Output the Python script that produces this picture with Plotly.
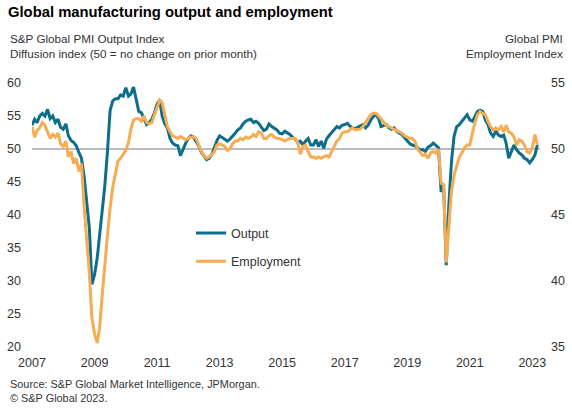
import pandas as pd
import plotly.graph_objects as go

# monthly readings, Jan 2007 .. Mar 2023
start_month = "2007-01-01"

# S&P Global PMI output index (left axis)
output = [
    53.6, 54.5, 54.0, 55.0, 55.4, 55.0, 56.0, 54.6, 55.0, 54.0, 54.5, 53.3,  # 2007
    53.0, 53.8, 52.0, 51.3, 51.0, 50.5, 49.5, 48.6, 45.8, 42.0, 38.0, 29.5,  # 2008
    31.0, 33.5, 37.0, 40.5, 44.5, 49.7, 55.8, 57.3, 57.6, 57.6, 58.2, 58.0,  # 2009
    59.3, 58.0, 58.3, 59.4, 57.8, 55.7, 55.5, 54.5, 53.7, 54.0, 54.5, 55.5,  # 2010
    56.8, 57.4, 55.0, 53.8, 53.2, 51.6, 50.9, 50.6, 50.5, 49.0, 50.0, 50.9,  # 2011
    51.6, 52.0, 51.8, 51.2, 50.5, 49.5, 49.0, 48.4, 48.6, 49.2, 50.2, 51.3,  # 2012
    52.0, 51.7, 51.4, 51.2, 51.5, 51.9, 52.4, 52.9, 53.2, 53.8, 54.2, 54.4,  # 2013
    54.5, 54.0, 54.2, 53.9, 53.4, 52.8, 53.0, 53.8, 53.4, 53.1, 52.9, 52.4,  # 2014
    52.3, 52.7, 52.5, 52.2, 51.8, 51.5, 51.0, 51.2, 50.6, 51.2, 51.6, 50.6,  # 2015
    50.6, 51.4, 50.4, 51.2, 50.1, 51.5, 52.0, 52.5, 53.0, 53.4, 53.2, 53.6,  # 2016
    53.7, 53.9, 53.5, 53.2, 53.1, 53.3, 53.4, 53.7, 53.2, 53.6, 54.4, 54.9,  # 2017
    55.2, 54.6, 53.4, 53.5, 53.7, 53.2, 53.0, 53.2, 52.7, 52.4, 52.2, 51.7,  # 2018
    51.3, 50.8, 50.6, 50.5, 50.2, 49.8, 49.9, 49.6, 50.3, 50.5, 50.9, 50.6,  # 2019
    50.2, 43.5, 44.6, 32.4, 41.5, 48.1, 51.9, 53.4, 53.7, 54.2, 54.7, 55.2,  # 2020
    54.4, 54.2, 54.9, 55.7, 55.9, 55.7, 54.4, 53.7, 52.4, 51.9, 52.7, 52.1,  # 2021
    51.9, 52.1, 50.9, 48.6, 49.6, 50.6, 49.9, 49.4, 49.1, 48.6, 48.4, 47.9,  # 2022
    48.4, 49.1, 50.6,                                                        # 2023
]

# Global PMI employment index (right axis)
employment = [
    51.7, 50.9, 51.4, 51.6, 52.0, 51.8, 51.3, 50.8, 51.1, 50.9, 51.2, 50.4,  # 2007
    50.2, 50.6, 49.4, 49.8, 48.9, 49.3, 48.3, 48.9, 45.6, 43.2, 40.6, 37.2,  # 2008
    36.0, 35.3, 36.5, 39.0, 41.4, 43.5, 45.5, 47.1, 48.1, 49.1, 49.3, 49.6,  # 2009
    49.9, 50.5, 51.5, 52.2, 52.3, 52.3, 52.1, 52.5, 52.0, 51.9, 52.0, 52.6,  # 2010
    53.2, 53.7, 53.5, 52.6, 51.7, 51.3, 51.0, 50.9, 50.8, 50.95, 50.8, 50.7,  # 2011
    50.8, 50.9, 50.9, 50.8, 50.3, 49.8, 49.5, 49.3, 49.4, 49.6, 49.8, 50.3,  # 2012
    50.4, 50.3, 50.2, 49.9, 50.0, 50.4, 50.6, 50.6, 50.8, 50.7, 50.9, 50.8,  # 2013
    50.9, 51.1, 50.95, 51.3, 51.2, 50.8, 50.8, 51.0, 51.1, 50.9, 50.8, 50.8,  # 2014
    50.7, 50.6, 50.7, 50.8, 50.8, 50.8, 50.5, 49.6, 50.2, 50.3, 49.8, 49.4,  # 2015
    49.4, 49.3, 49.4, 49.3, 49.4, 49.5, 49.4, 49.8, 50.2, 50.6, 50.8, 51.2,  # 2016
    51.3, 51.3, 51.45, 51.6, 51.45, 51.45, 51.5, 51.7, 52.0, 52.3, 52.6, 52.7,  # 2017
    52.7, 52.5, 52.3, 52.0, 51.8, 51.7, 51.6, 51.5, 51.4, 51.3, 51.2, 51.0,  # 2018
    50.9, 50.8, 50.8, 50.6, 50.0, 49.7, 49.5, 49.6, 49.3, 49.7, 49.8, 49.7,  # 2019
    50.0, 47.4, 47.3, 41.4, 44.2, 46.8, 48.0, 48.8, 49.4, 49.7, 50.1, 50.3,  # 2020
    50.3, 51.2, 52.0, 52.6, 52.85, 52.7, 52.6, 52.1, 51.7, 51.45, 51.6, 51.45,  # 2021
    51.7, 51.3, 51.8, 51.3, 51.2, 50.9, 50.3, 50.7, 50.6, 50.3, 49.8, 49.7,  # 2022
    50.1, 51.1, 50.3,                                                        # 2023
]

left_ticks = [20, 25, 30, 35, 40, 45, 50, 55, 60]
right_ticks = [35, 40, 45, 50, 55]

months = pd.date_range(start_month, periods=len(output), freq="MS")

teal = "#0C6E88"
orange = "#F5AC52"
txt = "#333333"
font = "Liberation Sans, Arial, sans-serif"

fig = go.Figure()
fig.add_trace(go.Scatter(x=months, y=output, name="Output", mode="lines",
                         line=dict(color=teal, width=3), legendgroup="a"))
fig.add_trace(go.Scatter(x=months, y=employment, name="Employment", mode="lines",
                         line=dict(color=orange, width=3), yaxis="y2", legendgroup="b"))

fig.add_hline(y=50, line_color="#A6A6A6", line_width=1.3, layer="below")

fig.update_layout(
    width=572, height=411,
    margin=dict(l=32, r=32, t=83, b=64),
    paper_bgcolor="white", plot_bgcolor="white",
    font=dict(family=font, size=12.5, color=txt),
    title=dict(text="<b>Global manufacturing output and employment</b>",
               x=8 / 572, xanchor="left", y=1 - 12 / 411, yanchor="middle",
               font=dict(size=14.8, color="#000000")),
    xaxis=dict(range=["2007-01-01", "2023-04-01"], tickformat="%Y",
               tick0="2007-01-01", dtick="M24", showgrid=False, showline=False,
               zeroline=False, ticks="", ticklabelstandoff=6, automargin=False),
    yaxis=dict(range=[20, 60], tickvals=left_ticks, showgrid=False, zeroline=False,
               showline=False, ticks="", ticklabelstandoff=10, automargin=False),
    yaxis2=dict(range=[35, 55], tickvals=right_ticks, overlaying="y", side="right",
                showgrid=False, zeroline=False, showline=False, ticks="",
                ticklabelstandoff=10, automargin=False),
    legend=dict(x=0.313, y=0.487, xanchor="left", yanchor="top",
                bgcolor="rgba(0,0,0,0)", traceorder="grouped", tracegroupgap=9,
                font=dict(size=12.5, color=txt)),
    showlegend=True,
)

fig.add_annotation(text="S&P Global PMI Output Index<br>Diffusion index (50 = no change on prior month)",
                   xref="paper", yref="paper", x=-24 / 508, y=(347 - 30) / 264,
                   xanchor="left", yanchor="top", align="left", showarrow=False,
                   font=dict(size=11.7, color=txt))
fig.add_annotation(text="Global PMI<br>Employment Index",
                   xref="paper", yref="paper", x=(565 - 32) / 508, y=(347 - 30) / 264,
                   xanchor="right", yanchor="top", align="right", showarrow=False,
                   font=dict(size=11.7, color=txt))
fig.add_annotation(text="Source: S&P Global Market Intelligence, JPMorgan.<br>© S&P Global 2023.",
                   xref="paper", yref="paper", x=-24 / 508, y=(347 - 376) / 264,
                   xanchor="left", yanchor="top", align="left", showarrow=False,
                   font=dict(size=10.9, color=txt))

# page body has a default 8px margin; drop it so the figure sits at the corner
fig.write_html("out.html", config={"displayModeBar": False},
               post_script="document.body.style.margin = '0';")
